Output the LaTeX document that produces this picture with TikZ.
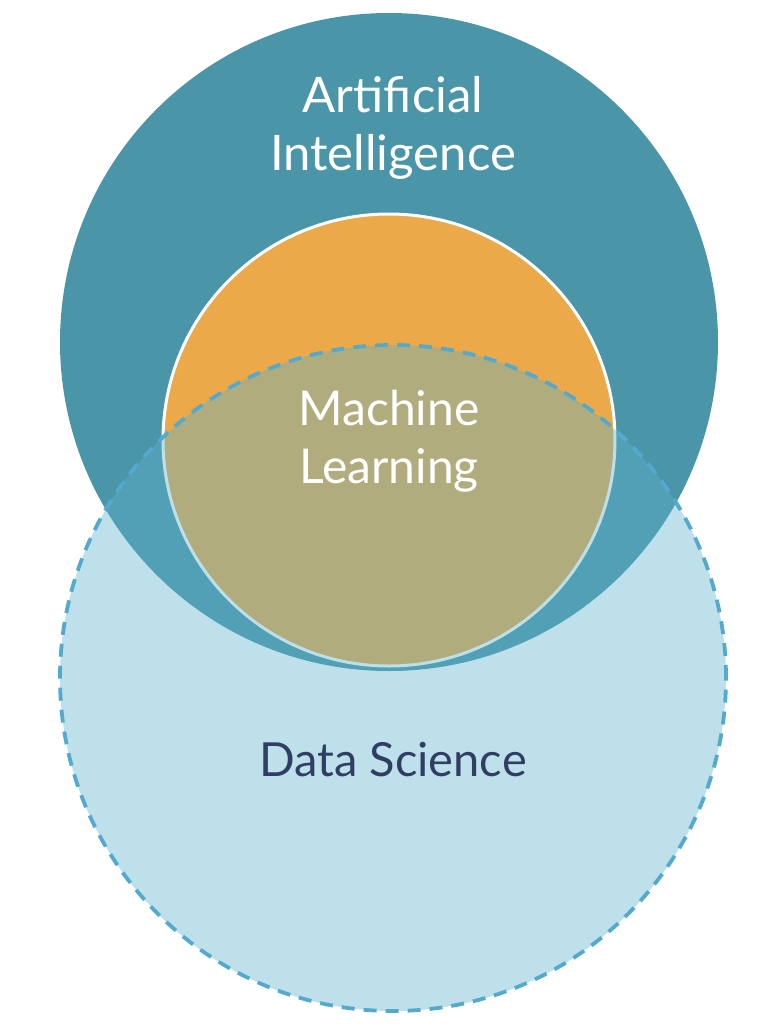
\documentclass[tikz,border=0pt]{standalone}
\usepackage{fontspec}
\setmainfont{Lato}
\usetikzlibrary{positioning}
\definecolor{aiteal}{RGB}{74,150,168}
\definecolor{mlorange}{RGB}{235,169,74}
\definecolor{dsblue}{RGB}{92,177,202}
\definecolor{dsline}{RGB}{84,170,206}
\definecolor{dsnavy}{RGB}{47,62,98}

\begin{document}
\begin{tikzpicture}[
  x=1pt, y=1pt,
  set/.style={circle, inner sep=0pt, outer sep=0pt},
  label/.style={align=center, font=\fontsize{49}{58}\selectfont, inner sep=0pt}
]
\useasboundingbox (0,0) rectangle (768,-1026);
% the three sets, back to front
\node[set, fill=aiteal, minimum size=658pt] (ai) at (389,-342) {};
\node[set, fill=mlorange, draw=white, line width=3pt, minimum size=452pt] (ml) at (389,-440) {};
\node[set, fill=dsblue, fill opacity=0.4, draw=dsline, line width=3.8pt,
      dash pattern=on 13pt off 9pt, minimum size=666pt] (ds) at (393,-678) {};
% set names
\node[label, text=white] (ailab) at (393,-128) {Artificial\\Intelligence};
\node[label, text=white, font=\fontsize{48}{58}\selectfont] (mllab) at (389,-441) {Machine\\Learning};
\node[label, text=dsnavy, font=\fontsize{47}{56}\selectfont] (dslab) at (393,-760) {Data Science};
\end{tikzpicture}
\end{document}
